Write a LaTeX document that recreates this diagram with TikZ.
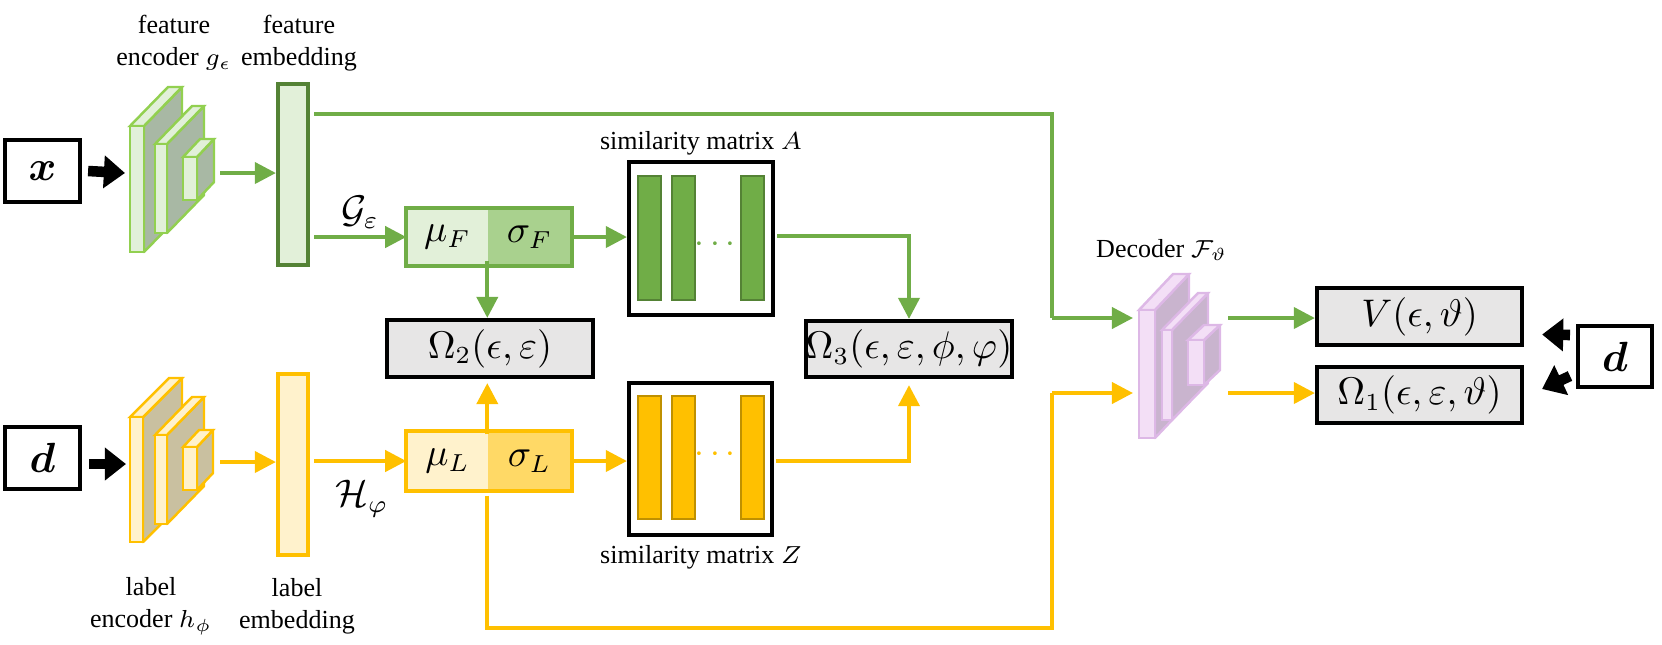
\documentclass[tikz,border=0pt]{standalone}
\usepackage{amsmath,amssymb}
\usepackage{fontspec}
\setmainfont{Liberation Serif}
\usetikzlibrary{arrows.meta}
\definecolor{gline}{HTML}{70AD47}
\definecolor{gdark}{HTML}{548235}
\definecolor{glight}{HTML}{E2F0D9}
\definecolor{gmid}{HTML}{A9D18E}
\definecolor{gedge}{HTML}{92D050}
\definecolor{gside}{HTML}{A8B8A4}
\definecolor{yline}{HTML}{FFC000}
\definecolor{ylight}{HTML}{FFF2CC}
\definecolor{ymid}{HTML}{FFD966}
\definecolor{ybar}{HTML}{BF9000}
\definecolor{yside}{HTML}{C9C0A0}
\definecolor{plight}{HTML}{F3DFF6}
\definecolor{pedge}{HTML}{DDB8E6}
\definecolor{pside}{HTML}{C9B4CE}
\definecolor{lgray}{HTML}{E7E6E6}
\def\pxu{*0.01cm}
\tikzset{
  gsidestyle/.style={draw=gedge,fill=gside,line width=0.7pt,line join=round},
  gfrontstyle/.style={draw=gedge,fill=glight,line width=0.7pt},
  ysidestyle/.style={draw=yline,fill=yside,line width=0.7pt,line join=round},
  yfrontstyle/.style={draw=yline,fill=ylight,line width=0.7pt},
  psidestyle/.style={draw=pedge,fill=pside,line width=0.7pt,line join=round},
  pfrontstyle/.style={draw=pedge,fill=plight,line width=0.7pt},
  inbox/.style={draw=black,line width=1.2pt,fill=white,inner sep=0pt,font=\fontsize{13}{13}\selectfont},
  lossbox/.style={draw=black,line width=1.2pt,fill=lgray,inner sep=0pt,font=\fontsize{10.5}{12}\selectfont},
  matbox/.style={draw=black,line width=1.2pt,inner sep=0pt},
  half/.style={inner sep=0pt,minimum height=56\pxu,font=\fontsize{10.5}{12}\selectfont},
  garr/.style={draw=gline,line width=1.1pt,-{Triangle[length=6pt,width=6pt]}},
  yarr/.style={draw=yline,line width=1.1pt,-{Triangle[length=6pt,width=6pt]}},
  gln/.style={draw=gline,line width=1.1pt},
  yln/.style={draw=yline,line width=1.1pt},
  barr/.style={draw=black,line width=3pt,-{Triangle[length=6pt,width=9pt]}},
  capt/.style={align=center,font=\fontsize{7.4}{9}\selectfont,inner sep=0pt},
}
% slab: x1 x2 y1 y2 dx dy palette
\newcommand\slab[7]{%
  \draw[#7sidestyle] (#2,#3) -- (#2+#5,#3+#6) -- (#2+#5,#4+#6) -- (#2,#4) -- cycle;
  \draw[#7frontstyle] (#1,#3) -- (#1+#5,#3+#6) -- (#2+#5,#3+#6) -- (#2,#3) -- cycle;
  \draw[#7frontstyle] (#1,#3) rectangle (#2,#4);
}
\begin{document}
\begin{tikzpicture}[x=0.01cm,y=-0.01cm]
\useasboundingbox (0,0) rectangle (1662,644);

% inputs
\node[inbox,minimum width=75\pxu,minimum height=62\pxu] (x) at (42.5,171) {$\boldsymbol{x}$};
\node[inbox,minimum width=75\pxu,minimum height=62\pxu] (dL) at (42.5,458) {$\boldsymbol{d}$};
\node[inbox,minimum width=74\pxu,minimum height=61\pxu] (dR) at (1615,356.5) {$\boldsymbol{d}$};

% encoders
\slab{130}{144}{126}{252}{38}{-39}{g}
\slab{155}{167}{144}{233}{37}{-38}{g}
\slab{183}{197}{157}{200}{17}{-18}{g}
\slab{130}{143}{417}{542}{39}{-39}{y}
\slab{155}{167}{435}{524}{37}{-38}{y}
\slab{183}{197}{447}{490}{16}{-17}{y}
\coordinate (fencin) at (125,173);
\coordinate (fencout) at (220,173);
\coordinate (lencin) at (126,464);
\coordinate (lencout) at (220,462);

% decoder
\slab{1139}{1155}{310}{438}{34}{-36}{p}
\slab{1162}{1172}{330}{420}{36}{-37}{p}
\slab{1188}{1204}{340}{385}{16}{-15}{p}
\coordinate (decgin) at (1133,318);
\coordinate (decyin) at (1133,393);
\coordinate (decgout) at (1228,318);
\coordinate (decyout) at (1228,393);

% captions
\node[capt] (cfe) at (174,43) {feature\\encoder $g_{\epsilon}$};
\node[capt] (cfm) at (299,43) {feature\\embedding};
\node[capt] (cle) at (151,606) {label\\encoder $h_{\phi}$};
\node[capt] (clm) at (297,606) {label\\embedding};
\node[capt] (cA) at (701,143) {similarity matrix $A$};
\node[capt] (cZ) at (701,557) {similarity matrix $Z$};
\node[capt] (cD) at (1162,250) {Decoder $\mathcal{F}_{\vartheta}$};
\node[font=\fontsize{10.5}{12}\selectfont,inner sep=0pt] (G) at (360,212) {$\mathcal{G}_{\varepsilon}$};
\node[font=\fontsize{10.5}{12}\selectfont,inner sep=0pt] (H) at (362,499) {$\mathcal{H}_{\varphi}$};

% embeddings
\node[draw=gdark,fill=glight,line width=1.2pt,minimum width=30\pxu,minimum height=181\pxu,inner sep=0pt] (femb) at (293,174.5) {};
\node[draw=yline,fill=ylight,line width=1.2pt,minimum width=30\pxu,minimum height=181\pxu,inner sep=0pt] (lemb) at (293,464.5) {};

% mu / sigma
\node[half,fill=glight,minimum width=81\pxu] (muF) at (447.5,237) {$\mu_F$};
\node[half,fill=gmid,minimum width=83\pxu] (sigF) at (529.5,237) {$\sigma_F$};
\draw[draw=gline,line width=1.2pt] (muF.north west) rectangle (sigF.south east);
\node[half,fill=ylight,minimum width=81\pxu,minimum height=58\pxu] (muL) at (447.5,461) {$\mu_L$};
\node[half,fill=ymid,minimum width=83\pxu,minimum height=58\pxu] (sigL) at (529.5,461) {$\sigma_L$};
\draw[draw=yline,line width=1.2pt] (muL.north west) rectangle (sigL.south east);

% similarity matrices
\node[matbox,minimum width=144\pxu,minimum height=153\pxu] (A) at (701,238.5) {};
\node[matbox,minimum width=143\pxu,minimum height=152\pxu] (Z) at (700.5,459) {};
\foreach \a in {638,672,741}{
  \draw[fill=gline,draw=gdark,line width=0.6pt] (\a,176) rectangle (\a+23,300);
  \draw[fill=yline,draw=ybar,line width=0.6pt] (\a,396) rectangle (\a+23,519);
}
\node[text=gline,inner sep=0pt] (dA) at (718,245) {$\cdots$};
\node[text=yline,inner sep=0pt] (dZ) at (718,455) {$\cdots$};

% losses
\node[lossbox,minimum width=206\pxu,minimum height=57\pxu] (Om2) at (490,348.5) {$\Omega_2(\epsilon,\varepsilon)$};
\node[lossbox,minimum width=206\pxu,minimum height=56\pxu] (Om3) at (909,349) {$\Omega_3(\epsilon,\varepsilon,\phi,\varphi)$};
\node[lossbox,minimum width=205\pxu,minimum height=57\pxu] (V) at (1419.5,316.5) {$V(\epsilon,\vartheta)$};
\node[lossbox,minimum width=205\pxu,minimum height=56\pxu] (Om1) at (1419.5,395) {$\Omega_1(\epsilon,\varepsilon,\vartheta)$};

% black arrows
\draw[barr] ([xshift=6\pxu]x.east) -- (fencin);
\draw[barr] ([xshift=7\pxu]dL.east |- lencin) -- (lencin);
\draw[barr] (1570,335) -- ([xshift=18\pxu,yshift=-18\pxu]V.east);
\draw[barr] (1570,376) -- ([xshift=18\pxu,yshift=6\pxu]Om1.east);

% green flow
\draw[garr] (fencout) -- (femb.west |- fencout);
\draw[gln] ([xshift=4\pxu]femb.east |- 0,114) -| (1052,318);
\draw[garr] (1052,318) -- (decgin);
\draw[garr] ([xshift=4\pxu]femb.east |- muF.west) -- (muF.west);
\draw[garr] ([xshift=2\pxu]sigF.east) -- (A.west |- sigF.east);
\draw[garr] ([yshift=5\pxu]sigF.south west) -- (sigF.south west |- Om2.north);
\draw[garr] ([xshift=2\pxu]A.east |- 0,236) -| (Om3.north);
\draw[garr] (decgout) -- (V.west |- decgout);

% yellow flow
\draw[yarr] (lencout) -- (lemb.west |- lencout);
\draw[yarr] ([xshift=4\pxu]lemb.east |- muL.west) -- (muL.west);
\draw[yarr] ([xshift=2\pxu]sigL.east) -- (Z.west |- sigL.east);
\draw[yarr] ([yshift=-3\pxu]sigL.north west) -- ([yshift=-4\pxu]sigL.north west |- Om2.south);
\draw[yarr] ([xshift=2\pxu]Z.east |- sigL.east) -| ([yshift=-6\pxu]Om3.south);
\draw[yln] ([yshift=-5\pxu]sigL.south west) |- (1052,628) -- (1052,393);
\draw[yarr] (1052,393) -- (decyin);
\draw[yarr] (decyout) -- (Om1.west |- decyout);
\end{tikzpicture}
\end{document}
